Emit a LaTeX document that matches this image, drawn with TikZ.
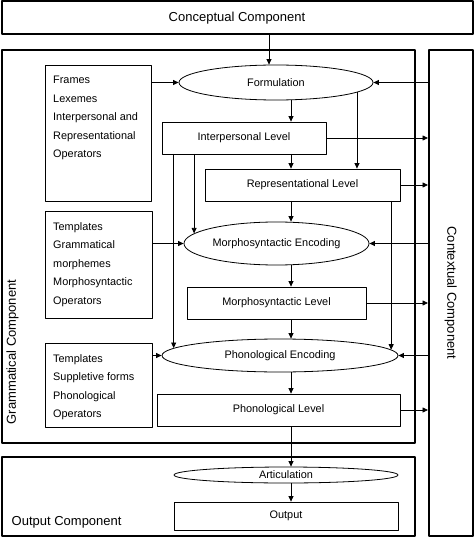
\documentclass[tikz,border=0pt]{standalone}
\usepackage{fontspec}
\setmainfont{Liberation Sans}
\usetikzlibrary{arrows.meta, shapes.geometric, positioning, calc}

\newcommand{\bodysize}{\fontsize{10.9}{18.5}\selectfont}
\newcommand{\headsize}{\fontsize{13}{15}\selectfont}

\begin{document}
\begin{tikzpicture}[x=1pt, y=-1pt, line join=round, line cap=round,
	outer/.style={draw, line width=2pt, inner sep=0pt},
	level/.style={draw, line width=0.8pt, inner sep=0pt, font=\bodysize},
	encode/.style={draw, ellipse, line width=0.8pt, inner sep=0pt, font=\bodysize},
	store/.style={anchor=north west, align=left, inner sep=0pt, font=\bodysize},
	arr/.style={line width=0.8pt, -{Triangle[length=5.5pt, width=5pt]}}]
	
	\useasboundingbox (0,0) rectangle (474,537);
	
	% --- outer components ---
	\node[outer, minimum width=471, minimum height=32.5, font=\headsize]
	(concept) at (237,17.75) {Conceptual Component};
	\node[outer, minimum width=413.5, minimum height=393] (gram) at (208.25,246.5) {};
	\node[outer, minimum width=43.5, minimum height=486] (ctx) at (450.75,293) {};
	\node[outer, minimum width=413.5, minimum height=78.5] (outc) at (208.25,496.25) {};
	
	\node[rotate=90, font=\headsize] (gramlab) at (12.5,352) {Grammatical Component};
	\node[rotate=-90, font=\headsize] (ctxlab) at (ctx.center) {Contextual Component};
	\node[anchor=west, font=\headsize, inner sep=0pt] (outlab) at (11.5,522.5) {Output Component};
	
	% --- stores on the left ---
	\node[level, minimum width=106, minimum height=136] (lex) at (98,133) {};
	\node[store] (lextxt) at (53,76) {Frames\\Lexemes\\Interpersonal and\\Representational\\Operators};
	\node[level, minimum width=107, minimum height=107] (tmpl) at (98.5,264.5) {};
	\node[store] (tmpltxt) at (53,222) {Templates\\Grammatical\\morphemes\\Morphosyntactic\\Operators};
	\node[level, minimum width=107, minimum height=84] (phop) at (98.5,385) {};
	\node[store] (phoptxt) at (53,354) {Templates\\Suppletive forms\\Phonological\\Operators};
	
	% --- operations and levels ---
	\node[encode, minimum width=194, minimum height=35] (form) at (276,82.5) {Formulation};
	\node[level, minimum width=164, minimum height=32] (ipl) at (244,138) {Interpersonal Level};
	\node[level, minimum width=195, minimum height=32] (rep) at (302.5,185) {Representational Level};
	\node[encode, minimum width=185, minimum height=43] (mse) at (276.5,243.5) {Morphosyntactic Encoding};
	\node[level, minimum width=179, minimum height=32] (msl) at (276.5,303) {Morphosyntactic Level};
	\node[encode, minimum width=236, minimum height=33] (phe) at (280,355.5) {Phonological Encoding};
	\node[level, minimum width=243, minimum height=32] (phl) at (278.5,410) {Phonological Level};
	\node[encode, minimum width=224, minimum height=16] (art) at (286,475) {Articulation};
	\node[level, minimum width=224, minimum height=28] (outp) at (286,516) {Output};
	
	% --- main line down ---
	\coordinate (cin) at (269,0);
	\coordinate (spine) at (291,0);
	\draw[arr] (cin |- concept.south) -- (cin |- form.north);
	\draw[arr] (spine |- form.south) -- (spine |- ipl.north);
	\draw[arr] (spine |- ipl.south) -- (spine |- rep.north);
	\draw[arr] (spine |- rep.south) -- (spine |- mse.north);
	\draw[arr] (spine |- mse.south) -- (spine |- msl.north);
	\draw[arr] (spine |- msl.south) -- (spine |- phe.north);
	\draw[arr] (spine |- phe.south) -- (spine |- phl.north);
	\draw[arr] (spine |- phl.south) -- (spine |- art.north);
	\draw[arr] (spine |- art.south) -- (spine |- outp.north);
	
	% --- side lines ---
	\draw[arr] (form.-7.5) -- (form.-7.5 |- rep.north);
	\draw[arr] (mse.173.5 |- ipl.south) -- (mse.173.5);
	\draw[arr] (phe.176.3 |- ipl.south) -- (phe.176.3);
	\draw[arr] (phe.3.7 |- rep.south) -- (phe.3.7);
	
	% --- stores in ---
	\draw[arr] (lex.east |- form.west) -- (form.west);
	\draw[arr] (tmpl.east |- mse.west) -- (mse.west);
	\draw[arr] (phop.east |- phe.west) -- (phe.west);
	
	% --- context in and out ---
	\draw[arr] (ctx.west |- form.east) -- (form.east);
	\draw[arr] (ctx.west |- mse.east) -- (mse.east);
	\draw[arr] (ctx.west |- phe.east) -- (phe.east);
	\foreach \lv in {ipl, rep, msl, phl}
	\draw[arr] (\lv.east) -- (\lv.east -| ctx.west);
	
\end{tikzpicture}
\end{document}
